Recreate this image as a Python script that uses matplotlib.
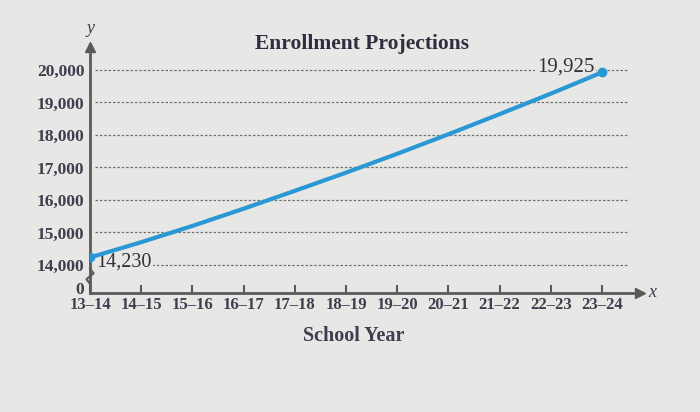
import matplotlib
matplotlib.use('Agg')
import matplotlib.pyplot as plt
import numpy as np

# data (endpoints labelled, middle estimated)
years = ['13–14', '14–15', '15–16', '16–17', '17–18', '18–19',
         '19–20', '20–21', '21–22', '22–23', '23–24']
enrollment = [14230, 14700, 15200, 15730, 16280, 16840,
              17420, 18020, 18640, 19270, 19925]
y_ticks = [14000, 15000, 16000, 17000, 18000, 19000, 20000]
y_zero = 13292  # where the broken axis puts "0"

serif = 'Liberation Serif'
axis_col = '#5a5a5a'
text_col = '#3e3e4e'
line_col = '#2a98d4'
bg = '#e7e7e5'

fig = plt.figure(figsize=(7, 4.12), dpi=100, facecolor=bg)
ax = fig.add_axes([0.1286, 0.289, 0.914 - 0.1286, 0.597])
ax.set_facecolor(bg)

x = np.arange(len(years))
ax.set_xlim(0, 10.74)
ax.set_ylim(13138, 20708)

# dashed grid lines
for yv in y_ticks:
    ax.hlines(yv, 0.1, 10.49, colors='#707070', linestyles=(0, (2, 1.5)),
              linewidth=0.9, zorder=1)

ax.plot(x, enrollment, color=line_col, linewidth=3, zorder=3,
        solid_capstyle='round')
ax.plot([x[0], x[-1]], [enrollment[0], enrollment[-1]], 'o',
        color=line_col, markersize=6, zorder=4)

ax.text(x[0] + 0.12, 14090, f'{enrollment[0]:,}', family=serif,
        fontsize=14.5, color='#333333', ha='left', va='center',
        bbox=dict(facecolor=bg, edgecolor='none', pad=1), zorder=2)
ax.text(x[-1] - 0.15, enrollment[-1] + 150, f'{enrollment[-1]:,}', family=serif,
        fontsize=15, color='#333333', ha='right', va='center',
        bbox=dict(facecolor=bg, edgecolor='none', pad=1), zorder=2)

# axes styling
for side in ['top', 'right']:
    ax.spines[side].set_visible(False)
for side in ['left', 'bottom']:
    ax.spines[side].set_color(axis_col)
    ax.spines[side].set_linewidth(2)
ax.plot(1, 0, '>', color=axis_col, markersize=7, transform=ax.transAxes,
        clip_on=False)
ax.plot(0, 1, '^', color=axis_col, markersize=7, transform=ax.transAxes,
        clip_on=False)

ax.set_yticks([y_zero] + y_ticks)
ax.set_yticklabels(['0'] + [f'{v:,}' for v in y_ticks])
ax.tick_params(axis='y', length=0, pad=4)
ax.set_xticks(x)
ax.set_xticklabels(years)
ax.tick_params(axis='x', direction='in', length=6, width=1.5,
               color=axis_col, pad=3)
for lab in ax.get_yticklabels():
    lab.set_family(serif)
    lab.set_fontsize(12.5)
    lab.set_fontweight('bold')
    lab.set_color(text_col)
for lab in ax.get_xticklabels():
    lab.set_family(serif)
    lab.set_fontsize(12)
    lab.set_fontweight('bold')
    lab.set_color(text_col)

# axis break squiggle
ax.plot([0, 0.07, -0.07, 0], [13880, 13740, 13560, 13420], color=axis_col,
        linewidth=1.5, clip_on=False, zorder=6)

ax.text(0, 1.04, 'y', transform=ax.transAxes, family=serif, fontsize=13,
        style='italic', color=text_col, ha='center', va='bottom')
ax.text(1.015, 0, 'x', transform=ax.transAxes, family=serif, fontsize=13,
        style='italic', color=text_col, ha='left', va='center')

fig.text(0.517, 0.893, 'Enrollment Projections', family=serif, fontsize=15.5,
         fontweight='bold', color='#2e2e40', ha='center', va='center')
fig.text(0.505, 0.185, 'School Year', family=serif, fontsize=14.5,
         fontweight='bold', color=text_col, ha='center', va='center')

fig.savefig('out.png', dpi=100, facecolor=bg)
